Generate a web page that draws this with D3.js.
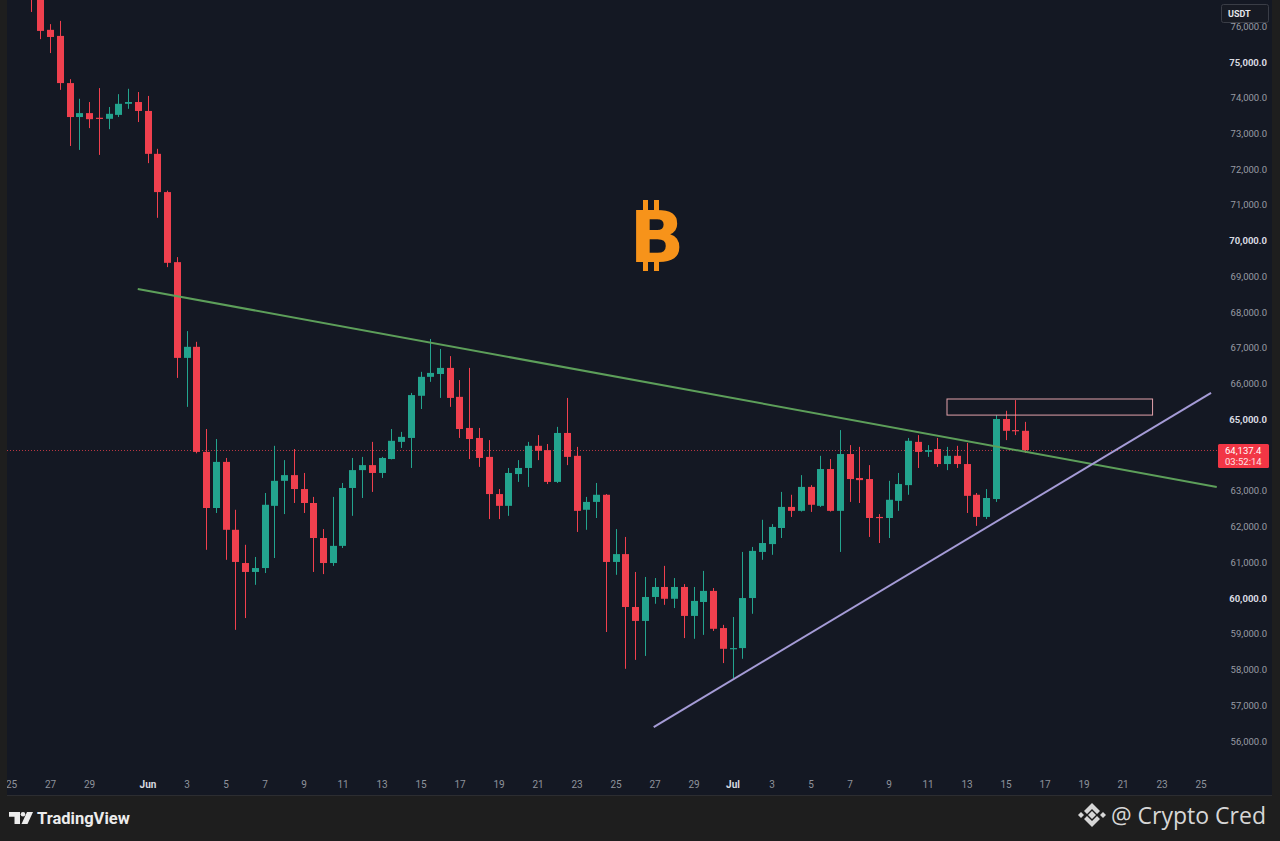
<!DOCTYPE html>
<html>
<head>
<meta charset="utf-8">
<title>BTC/USDT 12h</title>
<script src="https://cdn.jsdelivr.net/npm/d3@7"></script>
<style>
  html, body { margin: 0; padding: 0; background: #1e1e1e; overflow: hidden; }
  svg { display: block; }
</style>
</head>
<body>
<div id="chart"></div>
<script>
// 12h candles, BTC/USDT, late May - mid July
var candleTimes = [
  '05-26 00', '05-26 12', '05-27 00', '05-27 12', '05-28 00', '05-28 12',
  '05-29 00', '05-29 12', '05-30 00', '05-30 12', '05-31 00', '05-31 12',
  '06-01 00', '06-01 12', '06-02 00', '06-02 12', '06-03 00', '06-03 12',
  '06-04 00', '06-04 12', '06-05 00', '06-05 12', '06-06 00', '06-06 12',
  '06-07 00', '06-07 12', '06-08 00', '06-08 12', '06-09 00', '06-09 12',
  '06-10 00', '06-10 12', '06-11 00', '06-11 12', '06-12 00', '06-12 12',
  '06-13 00', '06-13 12', '06-14 00', '06-14 12', '06-15 00', '06-15 12',
  '06-16 00', '06-16 12', '06-17 00', '06-17 12', '06-18 00', '06-18 12',
  '06-19 00', '06-19 12', '06-20 00', '06-20 12', '06-21 00', '06-21 12',
  '06-22 00', '06-22 12', '06-23 00', '06-23 12', '06-24 00', '06-24 12',
  '06-25 00', '06-25 12', '06-26 00', '06-26 12', '06-27 00', '06-27 12',
  '06-28 00', '06-28 12', '06-29 00', '06-29 12', '06-30 00', '06-30 12',
  '07-01 00', '07-01 12', '07-02 00', '07-02 12', '07-03 00', '07-03 12',
  '07-04 00', '07-04 12', '07-05 00', '07-05 12', '07-06 00', '07-06 12',
  '07-07 00', '07-07 12', '07-08 00', '07-08 12', '07-09 00', '07-09 12',
  '07-10 00', '07-10 12', '07-11 00', '07-11 12', '07-12 00', '07-12 12',
  '07-13 00', '07-13 12', '07-14 00', '07-14 12', '07-15 00', '07-15 12',
  '07-16 00'
];

var opens = [
  77100, 76850, 75900, 75730, 74410, 73460, 73570, 73440, 73410, 73520, 73830, 73880,
  73630, 72430, 71360, 69400, 66720, 67030, 64090, 62520, 63810, 61910, 60980, 60730,
  60840, 62580, 63280, 63440, 63050, 62660, 61680, 60980, 61460, 63080, 63580, 63720,
  63500, 63890, 64370, 64480, 65660, 66190, 66270, 66440, 65630, 64760, 64480, 63950,
  62910, 62580, 63470, 63640, 64260, 64140, 63250, 64620, 63980, 62470, 62690, 62890,
  61010, 61230, 59750, 59360, 60030, 60310, 59980, 60310, 59500, 59890, 60200, 59160,
  58580, 58600, 60000, 61290, 61510, 61960, 62550, 62440, 63110, 62580, 63610, 62440,
  64030, 63360, 63330, 62270, 62240, 62720, 63160, 64370, 64090, 64170, 63750, 63980,
  63750, 62890, 62270, 62770, 65010, 64700, 64680
];

var highs = [
  77350, 76900, 76060, 76150, 74520, 73970, 73880, 74270, 73740, 74100, 74250, 74160,
  74050, 72570, 71400, 69540, 67470, 67170, 64730, 64450, 63920, 62470, 61490, 61150,
  62940, 64260, 63860, 64170, 63500, 62830, 61930, 62830, 63220, 63920, 63950, 64370,
  63950, 64730, 64650, 65740, 66330, 67250, 66970, 66770, 66100, 66440, 64760, 64420,
  63050, 63640, 63860, 64370, 64560, 64310, 64790, 65600, 64230, 62830, 63220, 62910,
  61930, 61710, 60730, 60590, 60560, 60900, 60560, 60390, 60310, 60760, 60280, 59250,
  59470, 61290, 61430, 62190, 62070, 62970, 62890, 63440, 63160, 63980, 63890, 64700,
  64280, 64230, 63720, 62350, 63280, 63500, 64480, 64560, 64280, 64480, 64230, 64260,
  64340, 62940, 63050, 65120, 65240, 65540, 64930
];

var lows = [
  76400, 75640, 75250, 74220, 72650, 72540, 73150, 72400, 73120, 73460, 73690, 73320,
  72170, 70640, 69260, 66160, 65350, 64050, 61350, 62380, 61070, 59110, 59440, 60370,
  60700, 61120, 62350, 62660, 62380, 60730, 60670, 60900, 61400, 62300, 62800, 62970,
  63360, 63880, 64200, 63640, 65290, 66050, 65600, 65350, 64480, 63890, 63670, 62210,
  62210, 62300, 63250, 63110, 63860, 63190, 63220, 63720, 61850, 61910, 62240, 59050,
  60650, 58020, 58270, 58380, 59840, 59810, 59720, 58880, 58860, 58970, 59080, 58180,
  57760, 58300, 59560, 61070, 61210, 61680, 62270, 62420, 62410, 62550, 62420, 61290,
  62690, 62660, 61710, 61540, 61680, 62440, 62890, 63640, 63950, 63670, 63580, 63640,
  62380, 62020, 62210, 62690, 64420, 64560, 64060
];

var closes = [
  76850, 75870, 75700, 74410, 73460, 73570, 73400, 73420, 73550, 73830, 73880, 73630,
  72430, 71360, 69380, 66720, 67030, 64090, 62520, 63810, 61910, 61010, 60730, 60840,
  62610, 63280, 63440, 63050, 62660, 61680, 60980, 61460, 63080, 63580, 63720, 63500,
  63920, 64400, 64510, 65680, 66190, 66300, 66440, 65600, 64730, 64450, 63920, 62910,
  62580, 63500, 63640, 64260, 64120, 63250, 64620, 63950, 62440, 62690, 62890, 61010,
  61230, 59750, 59360, 60030, 60310, 59980, 60310, 59500, 59920, 60200, 59140, 58580,
  58600, 60000, 61320, 61540, 61990, 62550, 62440, 63110, 62610, 63610, 62440, 64030,
  63330, 63300, 62240, 62250, 62750, 63190, 64400, 64090, 64140, 63750, 63980, 63750,
  62860, 62270, 62800, 65010, 64680, 64680, 64137.4
];

// 64,000 sits under the last-price tag, so it is not listed
var priceTicks = [56000, 57000, 58000, 59000, 60000, 61000, 62000, 63000,
  65000, 66000, 67000, 68000, 69000, 70000, 71000, 72000, 73000, 74000, 75000, 76000];
var majorPriceTicks = [60000, 65000, 70000, 75000];

var dateTicks = ['05-25', '05-27', '05-29',
  '06-01', '06-03', '06-05', '06-07', '06-09', '06-11', '06-13', '06-15', '06-17',
  '06-19', '06-21', '06-23', '06-25', '06-27', '06-29',
  '07-01', '07-03', '07-05', '07-07', '07-09', '07-11', '07-13', '07-15', '07-17',
  '07-19', '07-21', '07-23', '07-25'];

var lastPrice = 64137.4;
var countdown = '03:52:14';

// drawings: [time, price]
var resistanceLine = [['05-31 12', 68650], ['07-25 20', 63110]];
var supportLine = [['06-26 23', 56390], ['07-25 13', 65740]];
var highBox = [['07-12 00', 65570], ['07-22 13', 65120]];

var upColor = '#23a48e';
var downColor = '#f0404e';

var parseTime = d3.utcParse('%Y-%m-%d %H');
function toDate(s) {
  return parseTime('2024-' + (s.length === 5 ? s + ' 00' : s));
}

var width = 1280;
var height = 841;
var pane = {left: 7, right: 1272, top: 0, bottom: 795};
var plotRight = 1218;
var plotBottom = 776;

var svg = d3.select('#chart').append('svg')
  .attr('width', width)
  .attr('height', height);

svg.append('rect')
  .attr('width', width)
  .attr('height', height)
  .attr('fill', '#1e1e1e');

svg.append('rect')
  .attr('x', pane.left)
  .attr('y', pane.top)
  .attr('width', pane.right - pane.left)
  .attr('height', pane.bottom - pane.top)
  .attr('fill', '#141823');

svg.append('line')
  .attr('x1', pane.left).attr('x2', pane.right)
  .attr('y1', pane.bottom + 0.5).attr('y2', pane.bottom + 0.5)
  .attr('stroke', '#2c2d31');

var x = d3.scaleUtc()
  .domain([toDate('05-25'), toDate('07-25')])
  .range([11, 1200.5]);

var y = d3.scaleLinear()
  .domain([56000, 75000])
  .range([741, 62]);

var defs = svg.append('defs');
defs.append('clipPath')
  .attr('id', 'plotClip')
  .append('rect')
  .attr('x', pane.left)
  .attr('y', 0)
  .attr('width', plotRight - pane.left)
  .attr('height', plotBottom);

var plot = svg.append('g').attr('clip-path', 'url(#plotClip)');

// last price dotted line
plot.append('line')
  .attr('x1', pane.left).attr('x2', plotRight)
  .attr('y1', Math.round(y(lastPrice)) + 0.5)
  .attr('y2', Math.round(y(lastPrice)) + 0.5)
  .attr('stroke', downColor)
  .attr('stroke-opacity', 0.75)
  .attr('stroke-dasharray', '1,2');

var candles = candleTimes.map(function (t, i) {
  return {t: toDate(t), o: opens[i], h: highs[i], l: lows[i], c: closes[i]};
});

function candleColor(d) {
  return d.c >= d.o ? upColor : downColor;
}

var bars = plot.selectAll('g.candle')
  .data(candles)
  .enter()
  .append('g')
  .attr('class', 'candle');

bars.append('line')
  .attr('x1', function (d) { return Math.round(x(d.t)) + 0.5; })
  .attr('x2', function (d) { return Math.round(x(d.t)) + 0.5; })
  .attr('y1', function (d) { return y(d.h); })
  .attr('y2', function (d) { return y(d.l); })
  .attr('stroke', candleColor)
  .attr('stroke-width', 1);

bars.append('rect')
  .attr('x', function (d) { return Math.round(x(d.t)) - 3; })
  .attr('width', 7)
  .attr('y', function (d) { return y(Math.max(d.o, d.c)); })
  .attr('height', function (d) {
    return Math.max(1.2, Math.abs(y(d.o) - y(d.c)));
  })
  .attr('fill', candleColor);

// trend lines
var trend = d3.line()
  .x(function (d) { return x(toDate(d[0])); })
  .y(function (d) { return y(d[1]); });

plot.append('path')
  .datum(resistanceLine)
  .attr('d', trend)
  .attr('fill', 'none')
  .attr('stroke', '#5d9f5a')
  .attr('stroke-width', 2);

plot.append('path')
  .datum(supportLine)
  .attr('d', trend)
  .attr('fill', 'none')
  .attr('stroke', '#a59bd6')
  .attr('stroke-width', 2);

plot.append('rect')
  .attr('x', x(toDate(highBox[0][0])))
  .attr('y', y(highBox[0][1]))
  .attr('width', x(toDate(highBox[1][0])) - x(toDate(highBox[0][0])))
  .attr('height', y(highBox[1][1]) - y(highBox[0][1]))
  .attr('fill', 'none')
  .attr('stroke', '#e3a2ab')
  .attr('stroke-width', 1);

// bitcoin mark
var btc = svg.append('g').attr('fill', '#f7931a');
btc.append('text')
  .attr('x', 657)
  .attr('y', 262)
  .attr('text-anchor', 'middle')
  .attr('font-family', 'DejaVu Sans, sans-serif')
  .attr('font-weight', 'bold')
  .attr('font-size', 72)
  .text('B');
[643, 654].forEach(function (bx) {
  btc.append('rect').attr('x', bx).attr('y', 200).attr('width', 5).attr('height', 12);
  btc.append('rect').attr('x', bx).attr('y', 259).attr('width', 5).attr('height', 12);
});

// price axis
var yAxis = svg.append('g')
  .attr('transform', 'translate(1267,0)')
  .call(d3.axisLeft(y)
    .tickValues(priceTicks)
    .tickSize(0)
    .tickPadding(0)
    .tickFormat(d3.format(',.1f')));

yAxis.select('.domain').remove();
yAxis.selectAll('text')
  .attr('font-family', 'Roboto, sans-serif')
  .attr('font-size', 9.5)
  .attr('font-weight', function (d) { return majorPriceTicks.indexOf(d) >= 0 ? 'bold' : 'normal'; })
  .attr('fill', function (d) { return majorPriceTicks.indexOf(d) >= 0 ? '#d8dae0' : '#989ba4'; });

// time axis
var monthNames = ['Jan', 'Feb', 'Mar', 'Apr', 'May', 'Jun', 'Jul', 'Aug', 'Sep', 'Oct', 'Nov', 'Dec'];
var xAxis = svg.append('g')
  .attr('transform', 'translate(0,781)')
  .call(d3.axisBottom(x)
    .tickValues(dateTicks.map(toDate))
    .tickSize(0)
    .tickPadding(0)
    .tickFormat(function (d) {
      return d.getUTCDate() === 1 ? monthNames[d.getUTCMonth()] : String(d.getUTCDate());
    }));

xAxis.select('.domain').remove();
xAxis.selectAll('text')
  .attr('font-family', 'Roboto, sans-serif')
  .attr('font-size', 10)
  .attr('font-weight', function (d) { return d.getUTCDate() === 1 ? 'bold' : 'normal'; })
  .attr('fill', function (d) { return d.getUTCDate() === 1 ? '#d8dae0' : '#8f939c'; });

// currency tag
svg.append('rect')
  .attr('x', 1221.5).attr('y', 4.5)
  .attr('width', 47).attr('height', 18)
  .attr('rx', 2)
  .attr('fill', '#171a23')
  .attr('stroke', '#3a3d46');
svg.append('text')
  .attr('x', 1228).attr('y', 17)
  .attr('font-family', 'Roboto, sans-serif')
  .attr('font-size', 9)
  .attr('font-weight', 'bold')
  .attr('fill', '#e4e6eb')
  .text('USDT');

// last price tag
var tagY = Math.round(y(lastPrice));
svg.append('rect')
  .attr('x', 1218).attr('y', tagY - 6)
  .attr('width', 51).attr('height', 24)
  .attr('rx', 1.5)
  .attr('fill', '#f23645');
svg.append('text')
  .attr('x', 1225).attr('y', tagY + 4)
  .attr('font-family', 'Roboto, sans-serif')
  .attr('font-size', 9.5)
  .attr('fill', '#ffffff')
  .text(d3.format(',.1f')(lastPrice));
svg.append('text')
  .attr('x', 1225).attr('y', tagY + 14.5)
  .attr('font-family', 'Roboto, sans-serif')
  .attr('font-size', 9.5)
  .attr('fill', '#ffe3e5')
  .text(countdown);

// left frame strip
svg.append('rect')
  .attr('x', 0).attr('y', 0)
  .attr('width', pane.left).attr('height', height)
  .attr('fill', '#1e1e1e');

// footer: TradingView mark
var tv = svg.append('g').attr('fill', '#ececec');
tv.append('path').attr('d', 'M9,812 H20 V824 H14.5 V816.8 H9 Z');
tv.append('circle').attr('cx', 23).attr('cy', 814.3).attr('r', 2.3);
tv.append('path').attr('d', 'M27,812 H33 L27.5,824 H21.5 Z');
svg.append('text')
  .attr('x', 37).attr('y', 824)
  .attr('font-family', 'Roboto, sans-serif')
  .attr('font-weight', 'bold')
  .attr('font-size', 16.5)
  .attr('fill', '#ececec')
  .text('TradingView');

// footer: author
var badge = svg.append('g')
  .attr('transform', 'translate(1092,815)')
  .attr('fill', '#d6d6d6');
badge.append('path').attr('d', 'M-8,-4 L0,-12 L8,-4 L5,-1 L0,-6 L-5,-1 Z');
badge.append('path').attr('d', 'M-8,4 L0,12 L8,4 L5,1 L0,6 L-5,1 Z');
badge.append('path').attr('d', 'M-14,0 L-11,-3 L-8,0 L-11,3 Z');
badge.append('path').attr('d', 'M14,0 L11,-3 L8,0 L11,3 Z');
badge.append('path').attr('d', 'M0,-4 L4,0 L0,4 L-4,0 Z');
svg.append('text')
  .attr('x', 1111).attr('y', 824)
  .attr('font-family', 'Open Sans, sans-serif')
  .attr('font-size', 23)
  .attr('fill', '#d6d6d6')
  .text('@ Crypto Cred');
</script>
</body>
</html>
